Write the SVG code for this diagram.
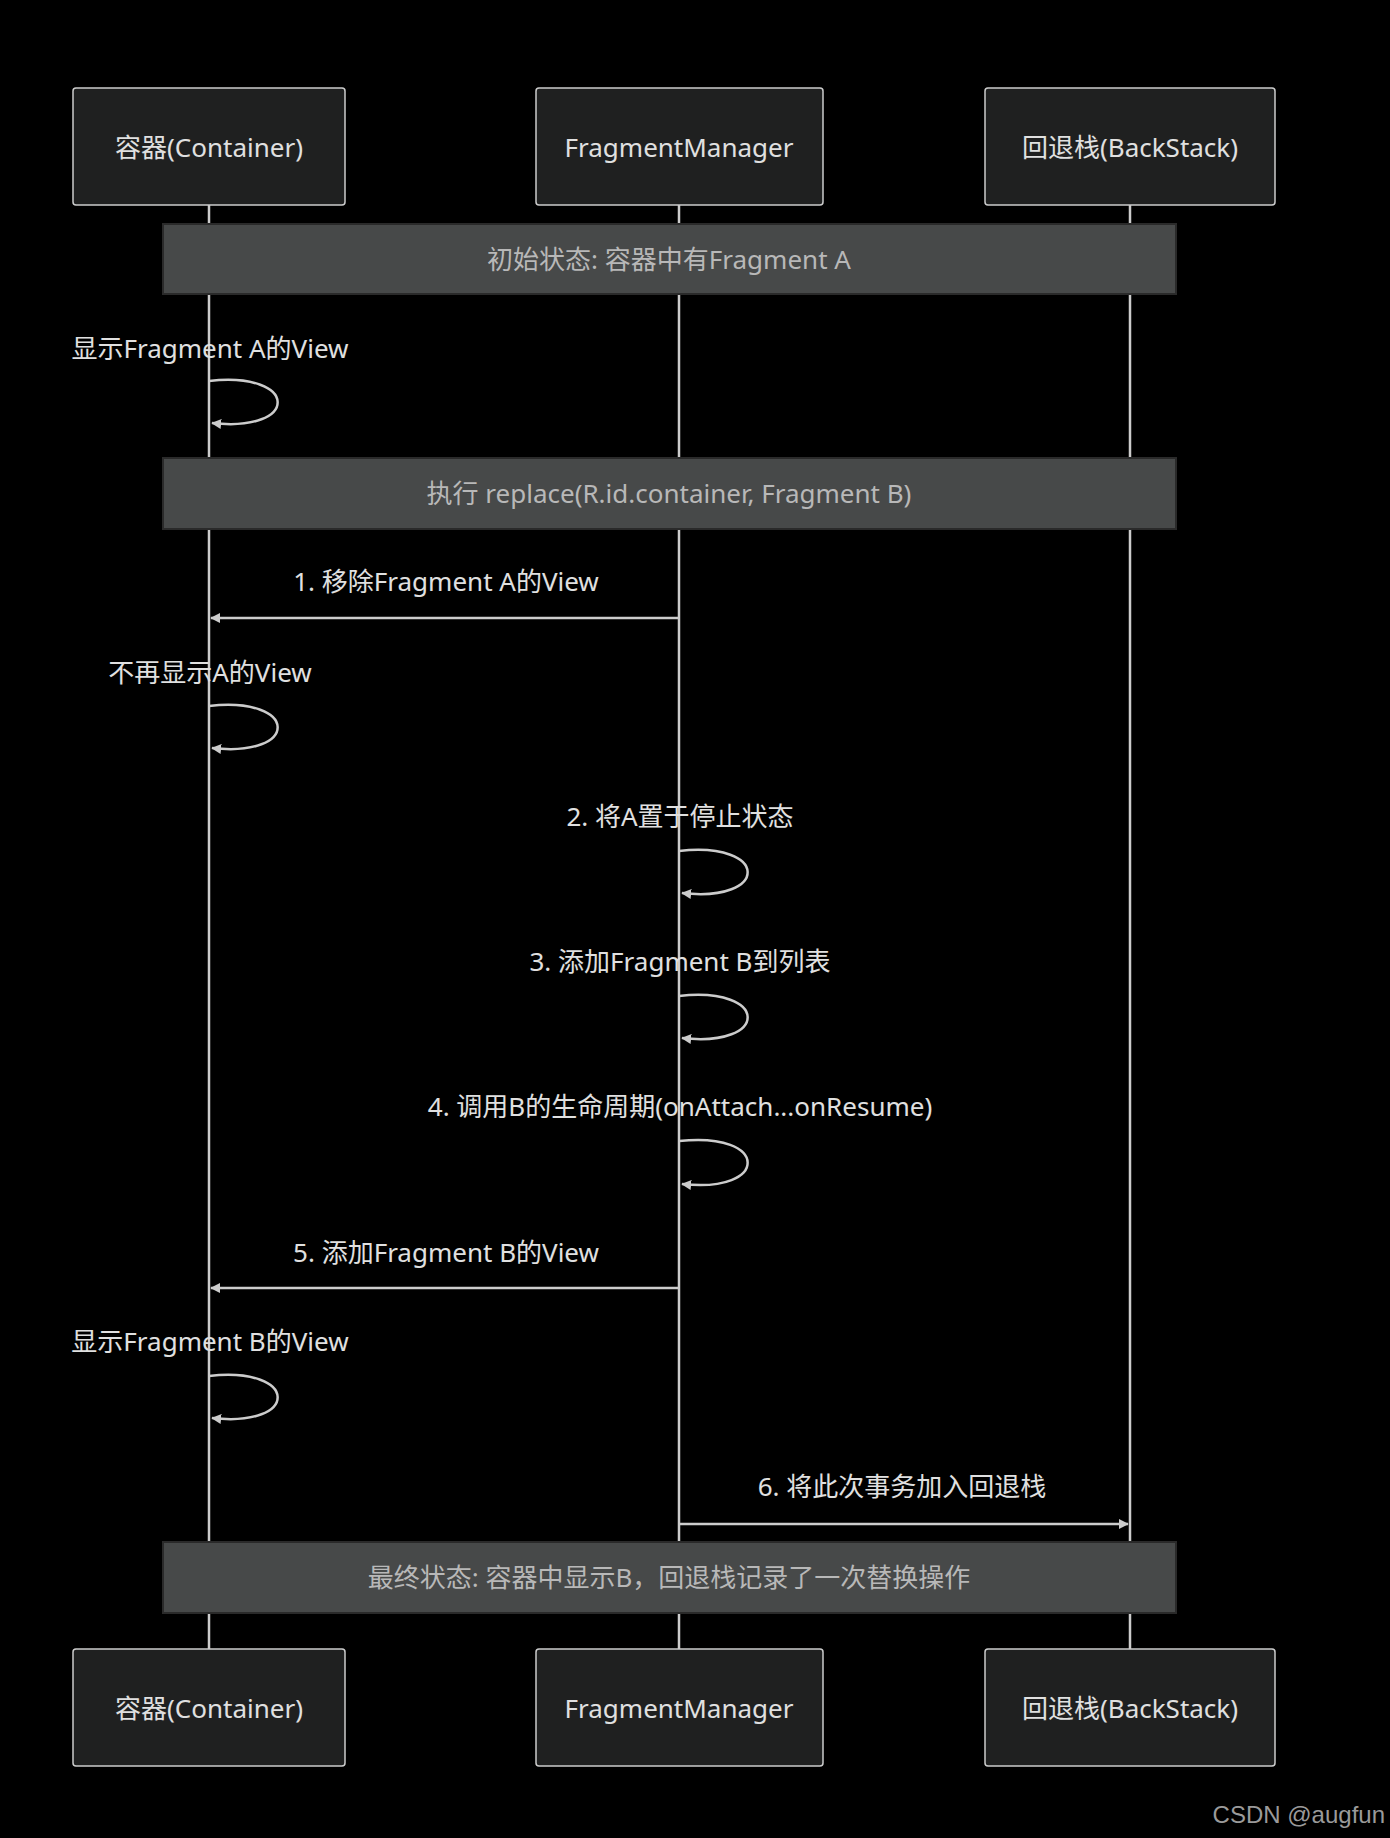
<svg xmlns="http://www.w3.org/2000/svg" width="1390" height="1838" viewBox="0 0 1390 1838">
<style>
.actor{fill:#1f2020;stroke:#cccccc;stroke-width:1.5}
.at{fill:#e0e0e0;font-family:"Noto Sans","Noto Sans CJK SC",sans-serif;font-size:26px;text-anchor:middle;dominant-baseline:central}
.life{stroke:#cccccc;stroke-width:2.5}
.note{fill:#474949;stroke:#2a2a2a;stroke-width:2}
.nt{fill:#b8b8b8;font-family:"Noto Sans","Noto Sans CJK SC",sans-serif;font-size:26px;text-anchor:middle;dominant-baseline:central}
.mt{fill:#e0e0e0;font-family:"Noto Sans","Noto Sans CJK SC",sans-serif;font-size:26px;text-anchor:middle;dominant-baseline:central}
.msg{stroke:#cccccc;stroke-width:2.5;fill:none;marker-end:url(#ah)}
</style>
<defs>
<marker id="ah" viewBox="0 0 12 12" refX="11" refY="6" markerWidth="10" markerHeight="10" markerUnits="userSpaceOnUse" orient="auto"><path d="M0,0 L12,6 L0,12 z" fill="#cccccc"/></marker>
</defs>
<rect width="1390" height="1838" fill="#000"/>
<g id="lifelines">
<line class="life" x1="209" y1="205" x2="209" y2="1649"/>
<line class="life" x1="679" y1="205" x2="679" y2="1649"/>
<line class="life" x1="1130" y1="205" x2="1130" y2="1649"/>
</g>
<g id="actor-container-top"><rect class="actor" x="73" y="88" width="272" height="117" rx="3"/><text class="at" x="209" y="147">容器(Container)</text></g>
<g id="actor-fm-top"><rect class="actor" x="536" y="88" width="287" height="117" rx="3"/><text class="at" x="679" y="147">FragmentManager</text></g>
<g id="actor-bs-top"><rect class="actor" x="985" y="88" width="290" height="117" rx="3"/><text class="at" x="1130" y="147">回退栈(BackStack)</text></g>
<g id="note1"><rect class="note" x="163" y="224" width="1013" height="70"/><text class="nt" x="669" y="259">初始状态: 容器中有Fragment A</text></g>
<g id="note2"><rect class="note" x="163" y="458" width="1013" height="71"/><text class="nt" x="669" y="493">执行 replace(R.id.container, Fragment B)</text></g>
<g id="note3"><rect class="note" x="163" y="1542" width="1013" height="71"/><text class="nt" x="669" y="1577">最终状态: 容器中显示B，回退栈记录了一次替换操作</text></g>
<g id="connectors">
<path class="msg" d="M209,381 C300,371 300,433 212,423"/>
<path class="msg" d="M679,618 L211,618"/>
<path class="msg" d="M209,706 C300,696 300,758 212,748"/>
<path class="msg" d="M679,851 C770,841 770,903 682,893"/>
<path class="msg" d="M679,996 C770,986 770,1048 682,1038"/>
<path class="msg" d="M679,1141 C770,1131 770,1194 682,1184"/>
<path class="msg" d="M679,1288 L211,1288"/>
<path class="msg" d="M209,1376 C300,1366 300,1428 212,1418"/>
<path class="msg" d="M679,1524 L1128,1524"/>
</g>
<g id="labels">
<text class="mt" x="210" y="348">显示Fragment A的View</text>
<text class="mt" x="446" y="581">1. 移除Fragment A的View</text>
<text class="mt" x="210" y="672">不再显示A的View</text>
<text class="mt" x="680" y="816">2. 将A置于停止状态</text>
<text class="mt" x="680" y="961">3. 添加Fragment B到列表</text>
<text class="mt" x="680" y="1106">4. 调用B的生命周期(onAttach...onResume)</text>
<text class="mt" x="446" y="1252">5. 添加Fragment B的View</text>
<text class="mt" x="210" y="1341">显示Fragment B的View</text>
<text class="mt" x="902" y="1486">6. 将此次事务加入回退栈</text>
</g>
<g id="actor-container-bottom"><rect class="actor" x="73" y="1649" width="272" height="117" rx="3"/><text class="at" x="209" y="1708">容器(Container)</text></g>
<g id="actor-fm-bottom"><rect class="actor" x="536" y="1649" width="287" height="117" rx="3"/><text class="at" x="679" y="1708">FragmentManager</text></g>
<g id="actor-bs-bottom"><rect class="actor" x="985" y="1649" width="290" height="117" rx="3"/><text class="at" x="1130" y="1708">回退栈(BackStack)</text></g>
<text x="1385" y="1814" text-anchor="end" font-family="Liberation Sans, sans-serif" font-size="24" fill="#9a9a9a" dominant-baseline="central">CSDN @augfun</text>
</svg>
